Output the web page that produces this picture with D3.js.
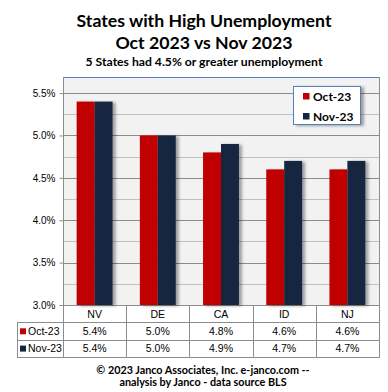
<!DOCTYPE html>
<html>
<head>
<meta charset="utf-8">
<script src="https://cdn.jsdelivr.net/npm/d3@7"></script>
<style>
  body { margin: 0; background: #fff; }
  svg { display: block; }
</style>
</head>
<body>
<div id="chart"></div>
<script>
const states = ['NV', 'DE', 'CA', 'ID', 'NJ'];
const seriesNames = ['Oct-23', 'Nov-23'];
const oct23 = [5.4, 5.0, 4.8, 4.6, 4.6];
const nov23 = [5.4, 5.0, 4.9, 4.7, 4.7];
const majorTicks = [3.0, 3.5, 4.0, 4.5, 5.0, 5.5];
const minorTicks = [3.25, 3.75, 4.25, 4.75, 5.25];
const colors = ['#c00000', '#14263f'];

const width = 388, height = 392;
const plot = { left: 63, right: 379, top: 77, bottom: 305 };
const rowH = 17.3;

const svg = d3.select('#chart').append('svg')
  .attr('width', width).attr('height', height);

const defs = svg.append('defs');
const f = defs.append('filter').attr('id', 'shadow')
  .attr('x', '-20%').attr('y', '-20%').attr('width', '160%').attr('height', '140%');
f.append('feDropShadow').attr('dx', 3).attr('dy', 1).attr('stdDeviation', 1.4)
  .attr('flood-color', '#000').attr('flood-opacity', 0.35);

const titleFont = 'Lato, "Open Sans", sans-serif';
const bodyFont = '"Liberation Sans", Arial, sans-serif';

// titles
svg.append('text').attr('x', 204).attr('y', 27).attr('text-anchor', 'middle')
  .attr('font-family', titleFont).attr('font-weight', 'bold').attr('font-size', 17.7)
  .text('States with High Unemployment');
svg.append('text').attr('x', 204).attr('y', 49).attr('text-anchor', 'middle')
  .attr('font-family', titleFont).attr('font-weight', 'bold').attr('font-size', 17.7)
  .text('Oct 2023 vs Nov 2023');
svg.append('text').attr('x', 204).attr('y', 66).attr('text-anchor', 'middle')
  .attr('font-family', titleFont).attr('font-weight', 'bold').attr('font-size', 12.2)
  .text('5 States had 4.5% or greater unemployment');

// scales
const y = d3.scaleLinear().domain([3.0, 5.69]).range([plot.bottom, plot.top]);
const x = d3.scaleBand().domain(states).range([plot.left, plot.right]);
const xSub = d3.scaleBand().domain(seriesNames).range([0, x.bandwidth()])
  .paddingInner(0).paddingOuter(0.76);

// plot background
svg.append('rect').attr('x', plot.left).attr('y', plot.top)
  .attr('width', plot.right - plot.left).attr('height', plot.bottom - plot.top)
  .attr('fill', '#f2f2f2');

// gridlines
svg.append('g').selectAll('line').data(minorTicks).join('line')
  .attr('x1', plot.left).attr('x2', plot.right)
  .attr('y1', d => Math.round(y(d)) + 0.5).attr('y2', d => Math.round(y(d)) + 0.5)
  .attr('stroke', '#c0c0c0').attr('stroke-width', 1);
svg.append('g').selectAll('line').data(majorTicks).join('line')
  .attr('x1', plot.left).attr('x2', plot.right)
  .attr('y1', d => Math.round(y(d)) + 0.5).attr('y2', d => Math.round(y(d)) + 0.5)
  .attr('stroke', '#8c8c8c').attr('stroke-width', 1);

// plot borders
svg.append('line').attr('x1', plot.left).attr('x2', plot.right)
  .attr('y1', plot.top + 0.5).attr('y2', plot.top + 0.5)
  .attr('stroke', '#4f81bd').attr('stroke-width', 1);
svg.append('line').attr('x1', plot.right + 0.5).attr('x2', plot.right + 0.5)
  .attr('y1', plot.top).attr('y2', plot.bottom)
  .attr('stroke', '#8c8c8c');

// bars
const groups = svg.append('g').attr('filter', 'url(#shadow)')
  .selectAll('g').data(states).join('g')
  .attr('transform', d => `translate(${x(d)},0)`);
groups.selectAll('rect')
  .data((d, i) => [oct23[i], nov23[i]].map((v, j) => ({ key: seriesNames[j], v, j })))
  .join('rect')
  .attr('x', d => xSub(d.key))
  .attr('width', xSub.bandwidth())
  .attr('y', d => y(d.v))
  .attr('height', d => y(3.0) - y(d.v))
  .attr('fill', d => colors[d.j]);

// y axis
const yAxis = d3.axisLeft(y).tickValues(majorTicks)
  .tickFormat(d => d.toFixed(1) + '%').tickSize(4).tickPadding(4);
const yg = svg.append('g').attr('transform', `translate(${plot.left + 0.5},0)`).call(yAxis);
yg.select('.domain').attr('stroke', '#8c8c8c').attr('d', `M-4,${plot.bottom + 0.5}H0V${plot.top}`);
yg.selectAll('.tick line').attr('stroke', '#8c8c8c');
yg.selectAll('.tick text').attr('font-family', bodyFont).attr('font-size', 10).attr('fill', '#000');

// data table
const table = svg.append('g').attr('stroke', '#8c8c8c').attr('fill', 'none');
const tTop = plot.bottom, r1 = tTop + rowH, r2 = r1 + rowH, r3 = r2 + rowH;
const tLeft = 17;
// vertical lines
x.domain().forEach(s => {
  table.append('line').attr('x1', Math.round(x(s)) + 0.5).attr('x2', Math.round(x(s)) + 0.5)
    .attr('y1', tTop).attr('y2', r3);
});
table.append('line').attr('x1', plot.right + 0.5).attr('x2', plot.right + 0.5).attr('y1', tTop).attr('y2', r3);
table.append('line').attr('x1', tLeft + 0.5).attr('x2', tLeft + 0.5).attr('y1', r1).attr('y2', r3);
// horizontal lines
[r1, r2, r3].forEach(r => {
  table.append('line').attr('x1', tLeft).attr('x2', plot.right + 1)
    .attr('y1', Math.round(r) + 0.5).attr('y2', Math.round(r) + 0.5);
});

const tText = svg.append('g').attr('font-family', bodyFont).attr('font-size', 10.5).attr('fill', '#000');
tText.selectAll('.hdr').data(states).join('text')
  .attr('x', d => x(d) + x.bandwidth() / 2).attr('y', tTop + 12.5)
  .attr('text-anchor', 'middle').text(d => d);
[oct23, nov23].forEach((vals, j) => {
  const rowTop = tTop + rowH * (j + 1);
  tText.selectAll('.v' + j).data(vals).join('text')
    .attr('x', (d, i) => x(states[i]) + x.bandwidth() / 2).attr('y', rowTop + 12.5)
    .attr('text-anchor', 'middle').text(d => d.toFixed(1) + '%');
  svg.append('rect').attr('x', 20).attr('y', rowTop + 6).attr('width', 6).attr('height', 6)
    .attr('fill', colors[j]);
  tText.append('text').attr('x', 28).attr('y', rowTop + 12.5).text(seriesNames[j]);
});

// legend
const lg = svg.append('g');
lg.append('rect').attr('x', 293.5).attr('y', 86.5).attr('width', 67).attr('height', 38)
  .attr('fill', '#fff').attr('stroke', '#4f81bd').attr('filter', 'url(#shadow)');
seriesNames.forEach((s, j) => {
  lg.append('rect').attr('x', 303).attr('y', 93 + j * 20).attr('width', 6.5).attr('height', 6.5)
    .attr('fill', colors[j]);
  lg.append('text').attr('x', 313).attr('y', 100.5 + j * 20)
    .attr('font-family', titleFont).attr('font-weight', 'bold').attr('font-size', 12)
    .text(s);
});

// footer
svg.append('text').attr('x', 203).attr('y', 374).attr('text-anchor', 'middle')
  .attr('font-family', titleFont).attr('font-weight', 'bold').attr('font-size', 10.8)
  .text('\u00a9 2023 Janco Associates, Inc. e-janco.com --');
svg.append('text').attr('x', 203).attr('y', 386).attr('text-anchor', 'middle')
  .attr('font-family', titleFont).attr('font-weight', 'bold').attr('font-size', 10.8)
  .text('analysis by Janco - data source BLS');
</script>
</body>
</html>
